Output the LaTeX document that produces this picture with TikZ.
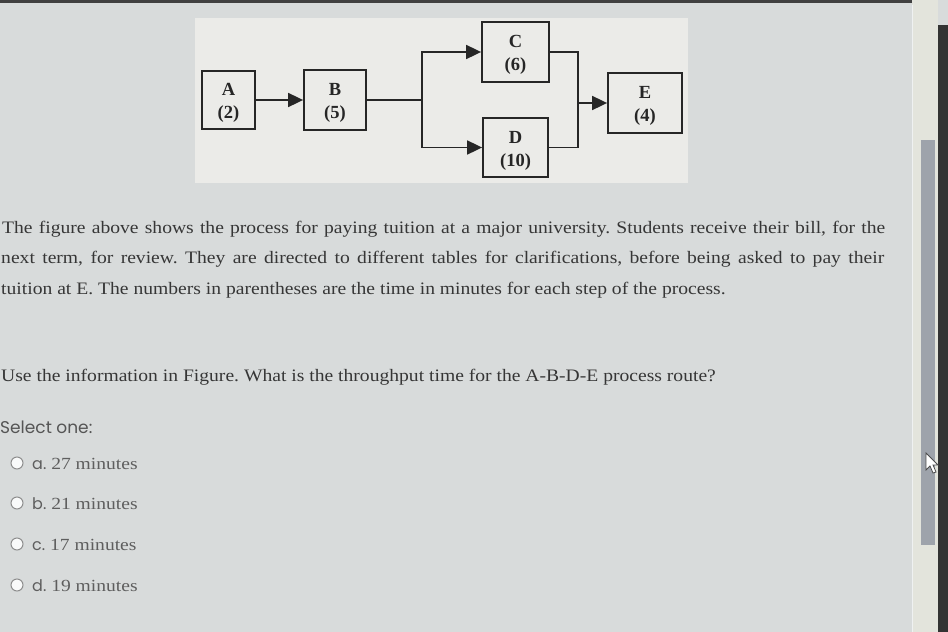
\documentclass[tikz,border=0pt]{standalone}
\usepackage{fontspec}
\setmainfont{Liberation Serif}
\newfontfamily\popp{Poppins}
\newfontfamily\wideserif[FakeStretch=1.12]{Liberation Serif}
\newfontfamily\optserif[FakeStretch=1.15]{Liberation Serif}
\usetikzlibrary{arrows.meta}
\definecolor{panel}{HTML}{D8DBDB}
\definecolor{figbg}{HTML}{EBEBE8}
\definecolor{ink}{HTML}{262626}
\definecolor{txt}{HTML}{363636}
\definecolor{faded}{HTML}{5E5E5E}
\definecolor{strip}{HTML}{E3E4DC}
\definecolor{sbar}{HTML}{9EA3AB}
\tikzset{
  procbox/.style={draw=ink, line width=1.8pt, fill=figbg, inner sep=0pt},
  boxtext/.style={align=center, inner sep=0pt, font=\fontsize{18.5}{23}\selectfont\bfseries, text=ink},
  link/.style={draw=ink, line width=1.8pt},
  arr/.style={link, -{Triangle[length=15pt,width=14pt]}},
  para/.style={anchor=west, inner sep=0pt, text=txt, font=\wideserif\fontsize{17.5}{20}\selectfont},
  opt/.style={anchor=west, inner sep=0pt, text=faded, font=\optserif\fontsize{17}{20}\selectfont},
  radio/.style={circle, draw=faded!70, line width=1pt, fill=white!85!panel, minimum size=12pt, inner sep=0pt}
}
\begin{document}
\frenchspacing
\begin{tikzpicture}[x=1pt,y=-1pt]
\useasboundingbox (0,0) rectangle (948,632);
% screen background
\fill[panel] (0,0) rectangle (948,632);
\fill[strip] (912,0) rectangle (938,632);
\fill[black!75] (0,0) rectangle (912,3);
\fill[black!80] (938,25) rectangle (948,632);
\fill[sbar] (921,140) rectangle (935,545);
\draw[white!60!panel, line width=1pt] (912,5) -- (912,632);
% cursor
\filldraw[fill=white, draw=black!70, line width=0.8pt]
  (926,453) -- (926,470) -- (930,466) -- (933,473) -- (936,472) -- (933,465) -- (938,465) -- cycle;
% figure background
\fill[figbg] (195,18) rectangle (688,183);
% boxes
\node[procbox, minimum width=53pt, minimum height=58pt] (A) at (228.5,100) {};
\node[procbox, minimum width=62pt, minimum height=60pt] (B) at (335,100) {};
\node[procbox, minimum width=67pt, minimum height=60pt] (C) at (515.5,52) {};
\node[procbox, minimum width=65pt, minimum height=59pt] (D) at (515.5,147.5) {};
\node[procbox, minimum width=74pt, minimum height=60pt] (E) at (645,103) {};
\node[boxtext] (At) at ([yshift=-3pt]A.center) {A\\(2)};
\node[boxtext] (Bt) at ([yshift=-3pt]B.center) {B\\(5)};
\node[boxtext] (Ct) at ([yshift=-3pt]C.center) {C\\(6)};
\node[boxtext] (Dt) at ([yshift=-3pt]D.center) {D\\(10)};
\node[boxtext] (Et) at ([yshift=-3pt]E.center) {E\\(4)};
\coordinate (j1) at (422,100);
\coordinate (j2) at (578,103);
\draw[arr] (A.east) -- (B.west);
\draw[link] (B.east) -- (j1);
\draw[arr] (j1) |- (C.west);
\draw[arr] (j1) |- (D.west);
\draw[link] (C.east) -| (j2);
\draw[link] (D.east) -| (j2);
\draw[arr] (j2) -- (E.west);
% paragraph
\node[para] (p1) at (2,229) {\makebox[883pt][s]{The figure above shows the process for paying tuition at a major university. Students receive their bill, for the}};
\node[para] (p2) at (1,259) {\makebox[883pt][s]{next term, for review. They are directed to different tables for clarifications, before being asked to pay their}};
\node[para] (p3) at (1,290) {tuition at E. The numbers in parentheses are the time in minutes for each step of the process.};
\node[para] (q) at (1,377) {Use the information in Figure. What is the throughput time for the A-B-D-E process route?};
% answers
\node[opt, font=\popp\fontsize{17}{20}\selectfont, text=faded!90!black] (sel) at (0,427) {Select one:};
\node[radio] (ra) at (17,463) {};
\node[radio] (rb) at (17,503) {};
\node[radio] (rc) at (17,544) {};
\node[radio] (rd) at (17,585) {};
\node[opt] (ta) at (32,464) {{\popp\fontsize{16}{20}\selectfont a.} 27 minutes};
\node[opt] (tb) at (32,504) {{\popp\fontsize{16}{20}\selectfont b.} 21 minutes};
\node[opt] (tc) at (32,545) {{\popp\fontsize{16}{20}\selectfont c.} 17 minutes};
\node[opt] (td) at (32,586) {{\popp\fontsize{16}{20}\selectfont d.} 19 minutes};
\end{tikzpicture}
\end{document}
